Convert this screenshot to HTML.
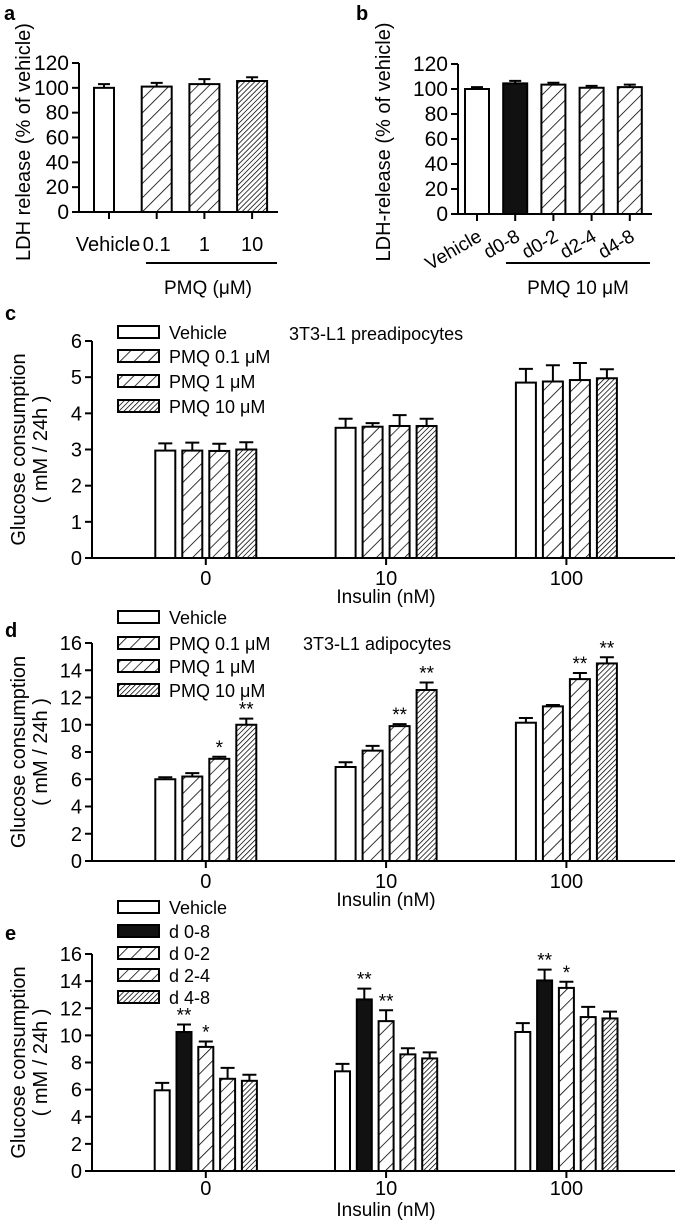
<!DOCTYPE html>
<html><head><meta charset="utf-8"><style>
html,body{margin:0;padding:0;background:#fff;}
svg{display:block;font-family:"Liberation Sans",Arial,sans-serif;}
</style></head><body>
<svg id="fig" width="675" height="1222" viewBox="0 0 675 1222" xmlns="http://www.w3.org/2000/svg">
<defs>
<pattern id="h01" patternUnits="userSpaceOnUse" width="10" height="10" patternTransform="rotate(45)"><rect width="10" height="10" fill="#fff"/><line x1="0" y1="0" x2="0" y2="10" stroke="#000" stroke-width="1.6"/></pattern>
<pattern id="h1" patternUnits="userSpaceOnUse" width="8" height="8" patternTransform="rotate(45)"><rect width="8" height="8" fill="#fff"/><line x1="0" y1="0" x2="0" y2="8" stroke="#000" stroke-width="1.5"/></pattern>
<pattern id="h10" patternUnits="userSpaceOnUse" width="3.6" height="3.6" patternTransform="rotate(45)"><rect width="3.6" height="3.6" fill="#fff"/><line x1="0" y1="0" x2="0" y2="3.6" stroke="#000" stroke-width="1.5"/></pattern>
</defs>
<g id="root"></g>
</svg>
<script>
// ---- data ----
const aCategories = ["Vehicle","0.1","1","10"];
const aValues = [100,101,103,105.5];
const aErrors = [3,3,4,3];
const bCategories = ["Vehicle","d0-8","d0-2","d2-4","d4-8"];
const bValues = [100,104.5,103.5,101,101.5];
const bErrors = [1.5,2,1.5,1.5,2];
const abTicks = [0,20,40,60,80,100,120];

const insulinGroups = ["0","10","100"];
const cSeries = ["Vehicle","PMQ 0.1 \u03bcM","PMQ 1 \u03bcM","PMQ 10 \u03bcM"];
const cValues = [[2.97,2.97,2.96,3.0],[3.6,3.63,3.65,3.65],[4.85,4.88,4.92,4.97]];
const cErrors = [[0.2,0.22,0.2,0.2],[0.25,0.1,0.3,0.2],[0.38,0.45,0.47,0.25]];
const cTicks = [0,1,2,3,4,5,6];

const dSeries = ["Vehicle","PMQ 0.1 \u03bcM","PMQ 1 \u03bcM","PMQ 10 \u03bcM"];
const dValues = [[6.0,6.2,7.5,10.0],[6.9,8.1,9.9,12.55],[10.15,11.35,13.35,14.5]];
const dErrors = [[0.15,0.25,0.15,0.45],[0.35,0.35,0.15,0.55],[0.35,0.1,0.45,0.45]];
const dStars = [["","","*","**"],["","","**","**"],["","","**","**"]];
const deTicks = [0,2,4,6,8,10,12,14,16];

const eSeries = ["Vehicle","d 0-8","d 0-2","d 2-4","d 4-8"];
const eValues = [[5.95,10.25,9.15,6.8,6.65],[7.35,12.65,11.05,8.6,8.3],[10.25,14.05,13.5,11.35,11.25]];
const eErrors = [[0.55,0.55,0.4,0.8,0.45],[0.55,0.8,0.8,0.45,0.45],[0.65,0.8,0.45,0.75,0.5]];
const eStars = [["","**","*","",""],["","**","**","",""],["","**","*","",""]];

// ---- helpers ----
const NS="http://www.w3.org/2000/svg";
const root=document.getElementById('root');
function mk(tag,attrs,parent,text){const e=document.createElementNS(NS,tag);for(const k in attrs)e.setAttribute(k,attrs[k]);if(text!==undefined)e.textContent=text;(parent||root).appendChild(e);return e;}
function line(x1,y1,x2,y2,name,w){const e=mk('line',{x1,y1,x2,y2,stroke:'#000','stroke-width':w||2});


return e;}
function txt(x,y,s,size,name,extra){const e=mk('text',Object.assign({x,y,'font-size':size,fill:'#000'},extra||{}),root,s);


return e;}
function bar(x,w,yTop,yBase,fill,name){const e=mk('rect',{x,y:yTop,width:w,height:yBase-yTop,fill,stroke:'#000','stroke-width':2});


return e;}
function errbar(cx,yTop,yErr,cap,name){const e=mk('path',{d:`M${cx},${yTop}V${yErr}M${cx-cap},${yErr}H${cx+cap}`,stroke:'#000','stroke-width':2,fill:'none'});

}
function yAxis(x,y0,y1,ticks,scale,size,name){
  line(x,y0+1,x,y1,name+'-y-axis');
  ticks.forEach(t=>{const y=scale(t);line(x-7,y,x,y,name+'-y-tick');
  txt(x-10,y+7,String(t),size,name+'-y-tick-label',{'text-anchor':'end'});});
}

// ---- panel a ----
(function(){
  const X0=79, Y0=212, Y1=63, max=120;
  const ys=v=>Y0-(v/max)*(Y0-Y1);
  const centers=i=>109+i*47.7;
  const widths=[20,30,30,30];
  const fills=['#fff','url(#h01)','url(#h1)','url(#h10)'];
  txt(4,20,'a',20,'panel-a-label',{'font-weight':'bold'});
  aValues.forEach((v,i)=>{const c=centers(i),w=widths[i];const bx=i===0?c-15:c-w/2;
    bar(bx,w,ys(v),Y0,fills[i],'bar-a-'+aCategories[i]);
    errbar(bx+w/2,ys(v),ys(v+aErrors[i]),6,'error-bar-a');
    line(c,Y0,c,Y0+7,'a-x-tick');});
  line(X0-1,Y0,278,Y0,'a-x-axis');
  yAxis(X0,Y0,Y1,abTicks,ys,21,'a');
  txt(108,251,'Vehicle',20,'a-x-label',{'text-anchor':'middle'});
  aCategories.slice(1).forEach((c,i)=>txt(centers(i+1),251,c,20,'a-x-label',{'text-anchor':'middle'}));
  line(146,263,277,263,'a-group-line');
  txt(208,294,'PMQ (\u03bcM)',19,'a-x-title',{'text-anchor':'middle'});
  txt(0,0,'LDH release (% of vehicle)',20,'a-y-title',{'text-anchor':'middle',transform:'translate(30,142) rotate(-90)'});
})();

// ---- panel b ----
(function(){
  const X0=458, Y0=214, Y1=64, max=120;
  const ys=v=>Y0-(v/max)*(Y0-Y1);
  const centers=i=>477+i*38.2;
  const fills=['#fff','#111','url(#h01)','url(#h01)','url(#h01)'];
  txt(356,20,'b',20,'panel-b-label',{'font-weight':'bold'});
  bValues.forEach((v,i)=>{const c=centers(i),w=24;
    bar(c-w/2,w,ys(v),Y0,fills[i],'bar-b-'+bCategories[i]);
    errbar(c,ys(v),ys(v+bErrors[i]),6,'error-bar-b');
    line(c,Y0,c,Y0+7,'b-x-tick');
    txt(0,0,bCategories[i],19,'b-x-label',{'text-anchor':'end',transform:`translate(${c+6},${Y0+26}) rotate(-30)`});});
  line(X0-1,Y0,652,Y0,'b-x-axis');
  yAxis(X0,Y0,Y1,abTicks,ys,21,'b');
  line(506,263,650,263,'b-group-line');
  txt(578,294,'PMQ 10 \u03bcM',19,'b-x-title',{'text-anchor':'middle'});
  txt(0,0,'LDH-release (% of vehicle)',20,'b-y-title',{'text-anchor':'middle',transform:'translate(390,142) rotate(-90)'});
})();

// ---- grouped panels ----
function grouped(cfg){
  const {X0,Y0,Y1,max,ticks,vals,errs,stars,series,fills,barW,step,label,labelY,legendYs,title,titleX,titleY,tickLabY,xTitleY,name}=cfg;
  const ys=v=>Y0-(v/max)*(Y0-Y1);
  const gc=g=>205.8+g*180.3;
  const n=series.length;
  txt(5,labelY,label,20,'panel-'+name+'-label',{'font-weight':'bold'});
  vals.forEach((grp,g)=>{
    grp.forEach((v,i)=>{const x=gc(g)-(n*step-(step-barW))/2+i*step;
      bar(x,barW,ys(v),Y0,fills[i],'bar-'+name+'-'+insulinGroups[g]+'-'+i);
      errbar(x+barW/2,ys(v),ys(v+errs[g][i]),7,'error-bar-'+name);
      if(stars&&stars[g][i])txt(x+barW/2,ys(v+errs[g][i])-3,stars[g][i],19,'significance-'+name,{'text-anchor':'middle'});
    });
    line(gc(g),Y0,gc(g),Y0+7,name+'-x-tick');
    txt(gc(g),tickLabY,insulinGroups[g],20,name+'-x-tick-label',{'text-anchor':'middle'});
  });
  line(X0-1,Y0,675,Y0,name+'-x-axis');
  yAxis(X0,Y0,Y1,ticks,ys,20,name);
  txt(386,xTitleY,'Insulin (nM)',19,name+'-x-title',{'text-anchor':'middle'});
  const yc=(Y0+Y1)/2;
  txt(0,0,'Glucose consumption',20,name+'-y-title',{'text-anchor':'middle',transform:`translate(25,${yc}) rotate(-90)`});
  txt(0,0,'( mM / 24h )',20,name+'-y-title-units',{'text-anchor':'middle',transform:`translate(47,${yc}) rotate(-90)`});
  series.forEach((s,i)=>{const y=legendYs[i];
    const r=mk('rect',{x:118,y:y-6,width:41,height:12,fill:fills[i],stroke:'#000','stroke-width':2});
    
    
    txt(169,y+7,s,18,'legend-entry-'+name);});
  if(title)txt(titleX,titleY,title,18,name+'-chart-title');
}
const pmqFills=['#fff','url(#h01)','url(#h1)','url(#h10)'];
grouped({name:'c',X0:92,Y0:558,Y1:341,max:6,ticks:cTicks,vals:cValues,errs:cErrors,stars:null,series:cSeries,fills:pmqFills,barW:20,step:27,label:'c',labelY:320,legendYs:[332,356,381,406],title:'3T3-L1 preadipocytes',titleX:289,titleY:340,tickLabY:585,xTitleY:603});
grouped({name:'d',X0:92,Y0:861,Y1:643,max:16,ticks:deTicks,vals:dValues,errs:dErrors,stars:dStars,series:dSeries,fills:pmqFills,barW:20,step:27,label:'d',labelY:637,legendYs:[617,643,666,690],title:'3T3-L1 adipocytes',titleX:303,titleY:650,tickLabY:888,xTitleY:906});
grouped({name:'e',X0:92,Y0:1171,Y1:954,max:16,ticks:deTicks,vals:eValues,errs:eErrors,stars:eStars,series:eSeries,fills:['#fff','#111','url(#h01)','url(#h1)','url(#h10)'],barW:15,step:21.8,label:'e',labelY:940,legendYs:[907,931,953,975,997],title:null,tickLabY:1195,xTitleY:1216});
</script>
</body></html>
